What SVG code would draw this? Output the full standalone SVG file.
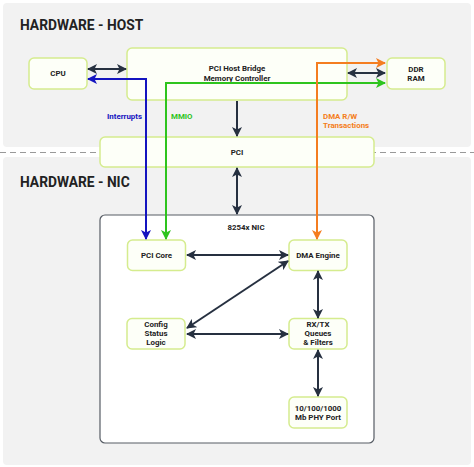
<svg xmlns="http://www.w3.org/2000/svg" width="474" height="467" viewBox="0 0 474 467">
<style>
.panel{fill:#f2f2f2;stroke:none}
.node{fill:#fdfff8;stroke:#d5ec8e;stroke-width:1.5}
.nic{fill:#ffffff;stroke:#565c64;stroke-width:1.2}
.h{font-family:Roboto,"Liberation Sans",sans-serif;font-weight:700;font-size:13.8px;fill:#222222}
.t{font-family:Roboto,"Liberation Sans",sans-serif;font-weight:700;font-size:7.9px;fill:#222222;text-anchor:middle}
.lbl{font-family:Roboto,"Liberation Sans",sans-serif;font-weight:700;font-size:7.9px}
.c{fill:none;stroke-width:2}
</style>
<defs>
<marker id="ad" viewBox="0 0 10 10" refX="9" refY="5" markerWidth="10" markerHeight="10" markerUnits="userSpaceOnUse" orient="auto-start-reverse"><path d="M0,0 L10,5 L0,10 L2.5,5 z" fill="#263040"/></marker>
<marker id="ab" viewBox="0 0 10 10" refX="9" refY="5" markerWidth="10" markerHeight="10" markerUnits="userSpaceOnUse" orient="auto-start-reverse"><path d="M0,0 L10,5 L0,10 L2.5,5 z" fill="#1414c0"/></marker>
<marker id="ag" viewBox="0 0 10 10" refX="9" refY="5" markerWidth="10" markerHeight="10" markerUnits="userSpaceOnUse" orient="auto-start-reverse"><path d="M0,0 L10,5 L0,10 L2.5,5 z" fill="#2ec41e"/></marker>
<marker id="ao" viewBox="0 0 10 10" refX="9" refY="5" markerWidth="10" markerHeight="10" markerUnits="userSpaceOnUse" orient="auto-start-reverse"><path d="M0,0 L10,5 L0,10 L2.5,5 z" fill="#f47d20"/></marker>
</defs>
<rect width="474" height="467" fill="#ffffff"/>
<rect class="panel" x="3" y="3" width="468" height="144" rx="4"/>
<rect class="panel" x="3" y="157" width="468" height="308" rx="4"/>
<line x1="0" y1="152.5" x2="474" y2="152.5" stroke="#999999" stroke-width="1" stroke-dasharray="6,4"/>
<text class="h" x="20" y="30">HARDWARE - HOST</text>
<text class="h" x="20" y="186.5">HARDWARE - NIC</text>

<g id="bridge"><rect class="node" x="127" y="48" width="220" height="52" rx="5"/><text class="t" x="237" y="71">PCI Host Bridge</text><text class="t" x="237" y="81">Memory Controller</text></g>
<g id="cpu"><rect class="node" x="29" y="58" width="58" height="31" rx="5"/><text class="t" x="58" y="76">CPU</text></g>
<g id="ddr"><rect class="node" x="387" y="58" width="58" height="31" rx="5"/><text class="t" x="416" y="72">DDR</text><text class="t" x="416" y="81">RAM</text></g>
<g id="pci"><rect class="node" x="100" y="137" width="274" height="30" rx="5"/><text class="t" x="237" y="155">PCI</text></g>
<g id="nic"><rect class="nic" x="100" y="215" width="274" height="228" rx="5"/><text class="t" x="246" y="230">8254x NIC</text></g>
<g id="pcicore"><rect class="node" x="127.5" y="240" width="58" height="30.5" rx="5"/><text class="t" x="156.5" y="258">PCI Core</text></g>
<g id="dma"><rect class="node" x="289" y="240" width="58" height="30.5" rx="5"/><text class="t" x="318" y="258">DMA Engine</text></g>
<g id="config"><rect class="node" x="127" y="318.5" width="58" height="30.5" rx="5"/><text class="t" x="156" y="327">Config</text><text class="t" x="156" y="336">Status</text><text class="t" x="156" y="345">Logic</text></g>
<g id="rxtx"><rect class="node" x="289" y="318.5" width="58" height="30.5" rx="5"/><text class="t" x="318" y="327">RX/TX</text><text class="t" x="318" y="336">Queues</text><text class="t" x="318" y="345">&amp; Filters</text></g>
<g id="phy"><rect class="node" x="289" y="397" width="58" height="31" rx="5"/><text class="t" x="318" y="411">10/100/1000</text><text class="t" x="318" y="420">Mb PHY Port</text></g>

<g id="connectors">
<path class="c" stroke="#263040" d="M88,69 H126" marker-start="url(#ad)" marker-end="url(#ad)"/>
<path class="c" stroke="#263040" d="M348,73 H385" marker-start="url(#ad)" marker-end="url(#ad)"/>
<path class="c" stroke="#263040" d="M237,101 V136" marker-end="url(#ad)"/>
<path class="c" stroke="#263040" d="M237,168 V214" marker-start="url(#ad)" marker-end="url(#ad)"/>
<path class="c" stroke="#263040" d="M187,255 H288" marker-start="url(#ad)" marker-end="url(#ad)"/>
<path class="c" stroke="#263040" d="M187,328 L288,261" marker-start="url(#ad)" marker-end="url(#ad)"/>
<path class="c" stroke="#263040" d="M187,334 H288" marker-start="url(#ad)" marker-end="url(#ad)"/>
<path class="c" stroke="#263040" d="M318,271 V318" marker-start="url(#ad)" marker-end="url(#ad)"/>
<path class="c" stroke="#263040" d="M318,350 V396" marker-start="url(#ad)" marker-end="url(#ad)"/>
<path class="c" stroke="#1414c0" d="M88,79 H146 V239" marker-start="url(#ab)" marker-end="url(#ab)"/>
<path class="c" stroke="#2ec41e" d="M166,239 V83 H385" marker-start="url(#ag)" marker-end="url(#ag)"/>
<path class="c" stroke="#f47d20" d="M317,239 V63 H385" marker-start="url(#ao)" marker-end="url(#ao)"/>
<text class="lbl" x="107" y="119" fill="#1414c0">Interrupts</text>
<text class="lbl" x="171" y="119" fill="#2ec41e">MMIO</text>
<text class="lbl" x="323" y="119" fill="#f47d20">DMA R/W</text>
<text class="lbl" x="323" y="128" fill="#f47d20">Transactions</text>
</g>
</svg>
